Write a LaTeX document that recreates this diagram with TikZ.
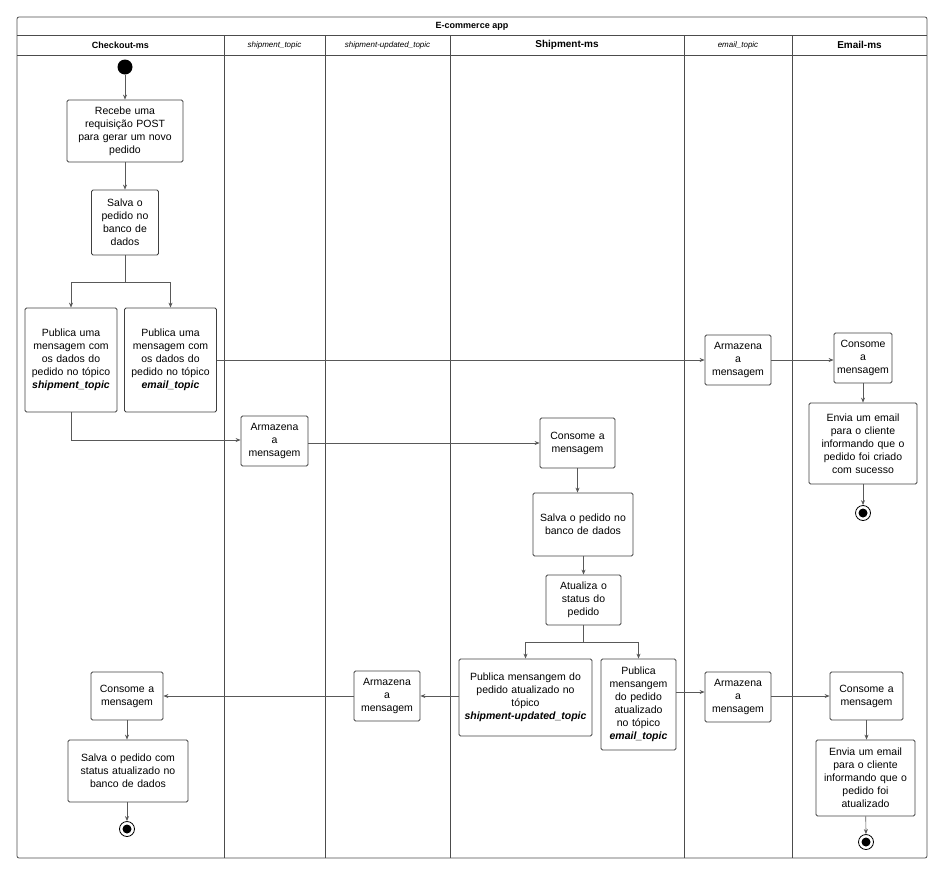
\documentclass[tikz,border=0pt]{standalone}
\usepackage{fontspec}
\setmainfont{Liberation Sans}
\usetikzlibrary{arrows.meta}
\begin{document}
\begin{tikzpicture}[x=1pt,y=-1pt,
  box/.style={draw=black!75,rounded corners=1.5pt,line width=0.8pt,align=center,inner sep=1pt,font=\fontsize{10.5}{13}\selectfont},
  arr/.style={draw=black!65,line width=0.7pt,-{Stealth[length=5pt,width=4pt]}},
  ln/.style={draw=black!65,line width=0.7pt},
  lane/.style={draw=black!70,line width=0.8pt},
  hd/.style={font=\fontsize{9}{11}\selectfont\bfseries},
  hi/.style={font=\fontsize{8}{10}\selectfont\itshape},
  st/.style={circle,fill=black,minimum size=15pt,inner sep=0pt},
  en/.style={circle,draw=black,line width=0.8pt,minimum size=15pt,inner sep=0pt,
    path picture={\fill (path picture bounding box.center) circle (4.5pt);}}]
\useasboundingbox (0,0) rectangle (943,876);
% frame
\draw[lane,rounded corners=2pt] (17,17) rectangle (927,858);
\draw[lane] (17,35) -- (927,35);
\draw[lane] (17,55) -- (927,55);
\foreach \x in {224,325,450,684,792} \draw[lane] (\x,35) -- (\x,858);
\node[hd] (title) at (472,26) {E-commerce app};
\node[hd] (h1) at (120.5,45) {Checkout-ms};
\node[hi] (h2) at (274.5,45) {shipment\_topic};
\node[hi] (h3) at (387.5,45) {shipment-updated\_topic};
\node[hd,font=\fontsize{10}{12}\selectfont\bfseries] (h4) at (567,45) {Shipment-ms};
\node[hi] (h5) at (738,45) {email\_topic};
\node[hd,font=\fontsize{10}{12}\selectfont\bfseries] (h6) at (859.5,45) {Email-ms};
% checkout
\node[st] (s0) at (125,67) {};
\node[box,minimum width=116pt,minimum height=62pt,text width=110pt] (n1) at (125,131) {Recebe uma\\requisição POST\\para gerar um novo\\pedido};
\node[box,minimum width=67pt,minimum height=65pt,text width=62pt] (n2) at (125,222.5) {Salva o\\pedido no\\banco de\\dados};
\node[box,minimum width=92pt,minimum height=104pt,text width=90pt] (n3) at (71,360) {Publica uma\\mensagem com\\os dados do\\pedido no tópico\\\textbf{\textit{shipment\_topic}}};
\node[box,minimum width=91pt,minimum height=104pt,text width=90pt] (n4) at (170.5,360) {Publica uma\\mensagem com\\os dados do\\pedido no tópico\\\textbf{\textit{email\_topic}}};
\coordinate (f1) at (125,282);
\draw[arr] (s0) -- (n1);
\draw[arr] (n1) -- (n2);
\draw[ln] (n2.south) -- (f1);
\draw[arr] (f1) -| (n3.north);
\draw[arr] (f1) -| (n4.north);
% email branch
\node[box,minimum width=66pt,minimum height=50pt,text width=62pt] (ea1) at (738,360) {Armazena\\a\\mensagem};
\node[box,minimum width=58pt,minimum height=50pt,text width=56pt] (ec1) at (863,358) {Consome\\a\\mensagem};
\node[box,minimum width=108pt,minimum height=81pt,text width=104pt] (ee1) at (863,443.5) {Envia um email\\para o cliente\\informando que o\\pedido foi criado\\com sucesso};
\node[en] (end1) at (863,513) {};
\draw[arr] (n4.east |- ea1.west) -- (ea1.west);
\draw[arr] (ea1.east) -- (ec1.west |- ea1.east);
\draw[arr] (ec1) -- (ee1);
\draw[arr] (ee1) -- (end1);
% shipment branch
\node[box,minimum width=67pt,minimum height=50pt,text width=62pt] (sa1) at (274.5,441) {Armazena\\a\\mensagem};
\coordinate (c3) at (71,440);
\draw[ln] (n3.south) -- (c3);
\draw[arr] (c3) -- (sa1.west |- c3);
\node[box,minimum width=75pt,minimum height=50pt,text width=72pt] (sc1) at (577.5,443) {Consome a\\mensagem};
\draw[arr] (sa1.east |- sc1.west) -- (sc1.west);
\node[box,minimum width=100pt,minimum height=63pt,text width=96pt] (ss1) at (583,524.5) {Salva o pedido no\\banco de dados};
\node[box,minimum width=75pt,minimum height=50pt,text width=72pt] (su1) at (583.5,600) {Atualiza o\\status do\\pedido};
\draw[arr] (sc1) -- (sc1 |- ss1.north);
\draw[arr] (su1 |- ss1.south) -- (su1);
\node[box,minimum width=133pt,minimum height=77pt,text width=131pt] (p1) at (525.5,697.5) {Publica mensangem do\\pedido atualizado no\\tópico\\\textbf{\textit{shipment-updated\_topic}}};
\node[box,minimum width=75pt,minimum height=91pt,text width=72pt] (p2) at (638.5,704.5) {Publica\\mensangem\\do pedido\\atualizado\\no tópico\\\textbf{\textit{email\_topic}}};
\coordinate (f2) at (583.5,642);
\draw[ln] (su1.south) -- (f2);
\draw[arr] (f2) -| (p1.north);
\draw[arr] (f2) -| (p2.north);
% updated
\node[box,minimum width=66pt,minimum height=50pt,text width=62pt] (ua1) at (387,696) {Armazena\\a\\mensagem};
\node[box,minimum width=72pt,minimum height=48pt,text width=70pt] (uc1) at (127,696) {Consome a\\mensagem};
\node[box,minimum width=120pt,minimum height=62pt,text width=116pt] (us1) at (128,771) {Salva o pedido com\\status atualizado no\\banco de dados};
\node[en] (end2) at (127,829) {};
\draw[arr] (p1.west |- ua1.east) -- (ua1.east);
\draw[arr] (ua1.west) -- (uc1.east |- ua1.west);
\draw[arr] (uc1) -- (uc1 |- us1.north);
\draw[arr] (end2 |- us1.south) -- (end2);
% email updated
\node[box,minimum width=66pt,minimum height=50pt,text width=62pt] (ea2) at (738,697) {Armazena\\a\\mensagem};
\node[box,minimum width=73pt,minimum height=48pt,text width=70pt] (ec2) at (866.5,696) {Consome a\\mensagem};
\node[box,minimum width=99pt,minimum height=76pt,text width=96pt] (ee2) at (865.5,778) {Envia um email\\para o cliente\\informando que o\\pedido foi\\atualizado};
\node[en] (end3) at (866,842) {};
\draw[arr] (p2.east |- 0,692) -- (ea2.west |- 0,692);
\draw[arr] (ea2.east |- ec2.west) -- (ec2.west);
\draw[arr] (ec2) -- (ec2 |- ee2.north);
\draw[arr] (ee2) -- (end3);
\end{tikzpicture}
\end{document}
